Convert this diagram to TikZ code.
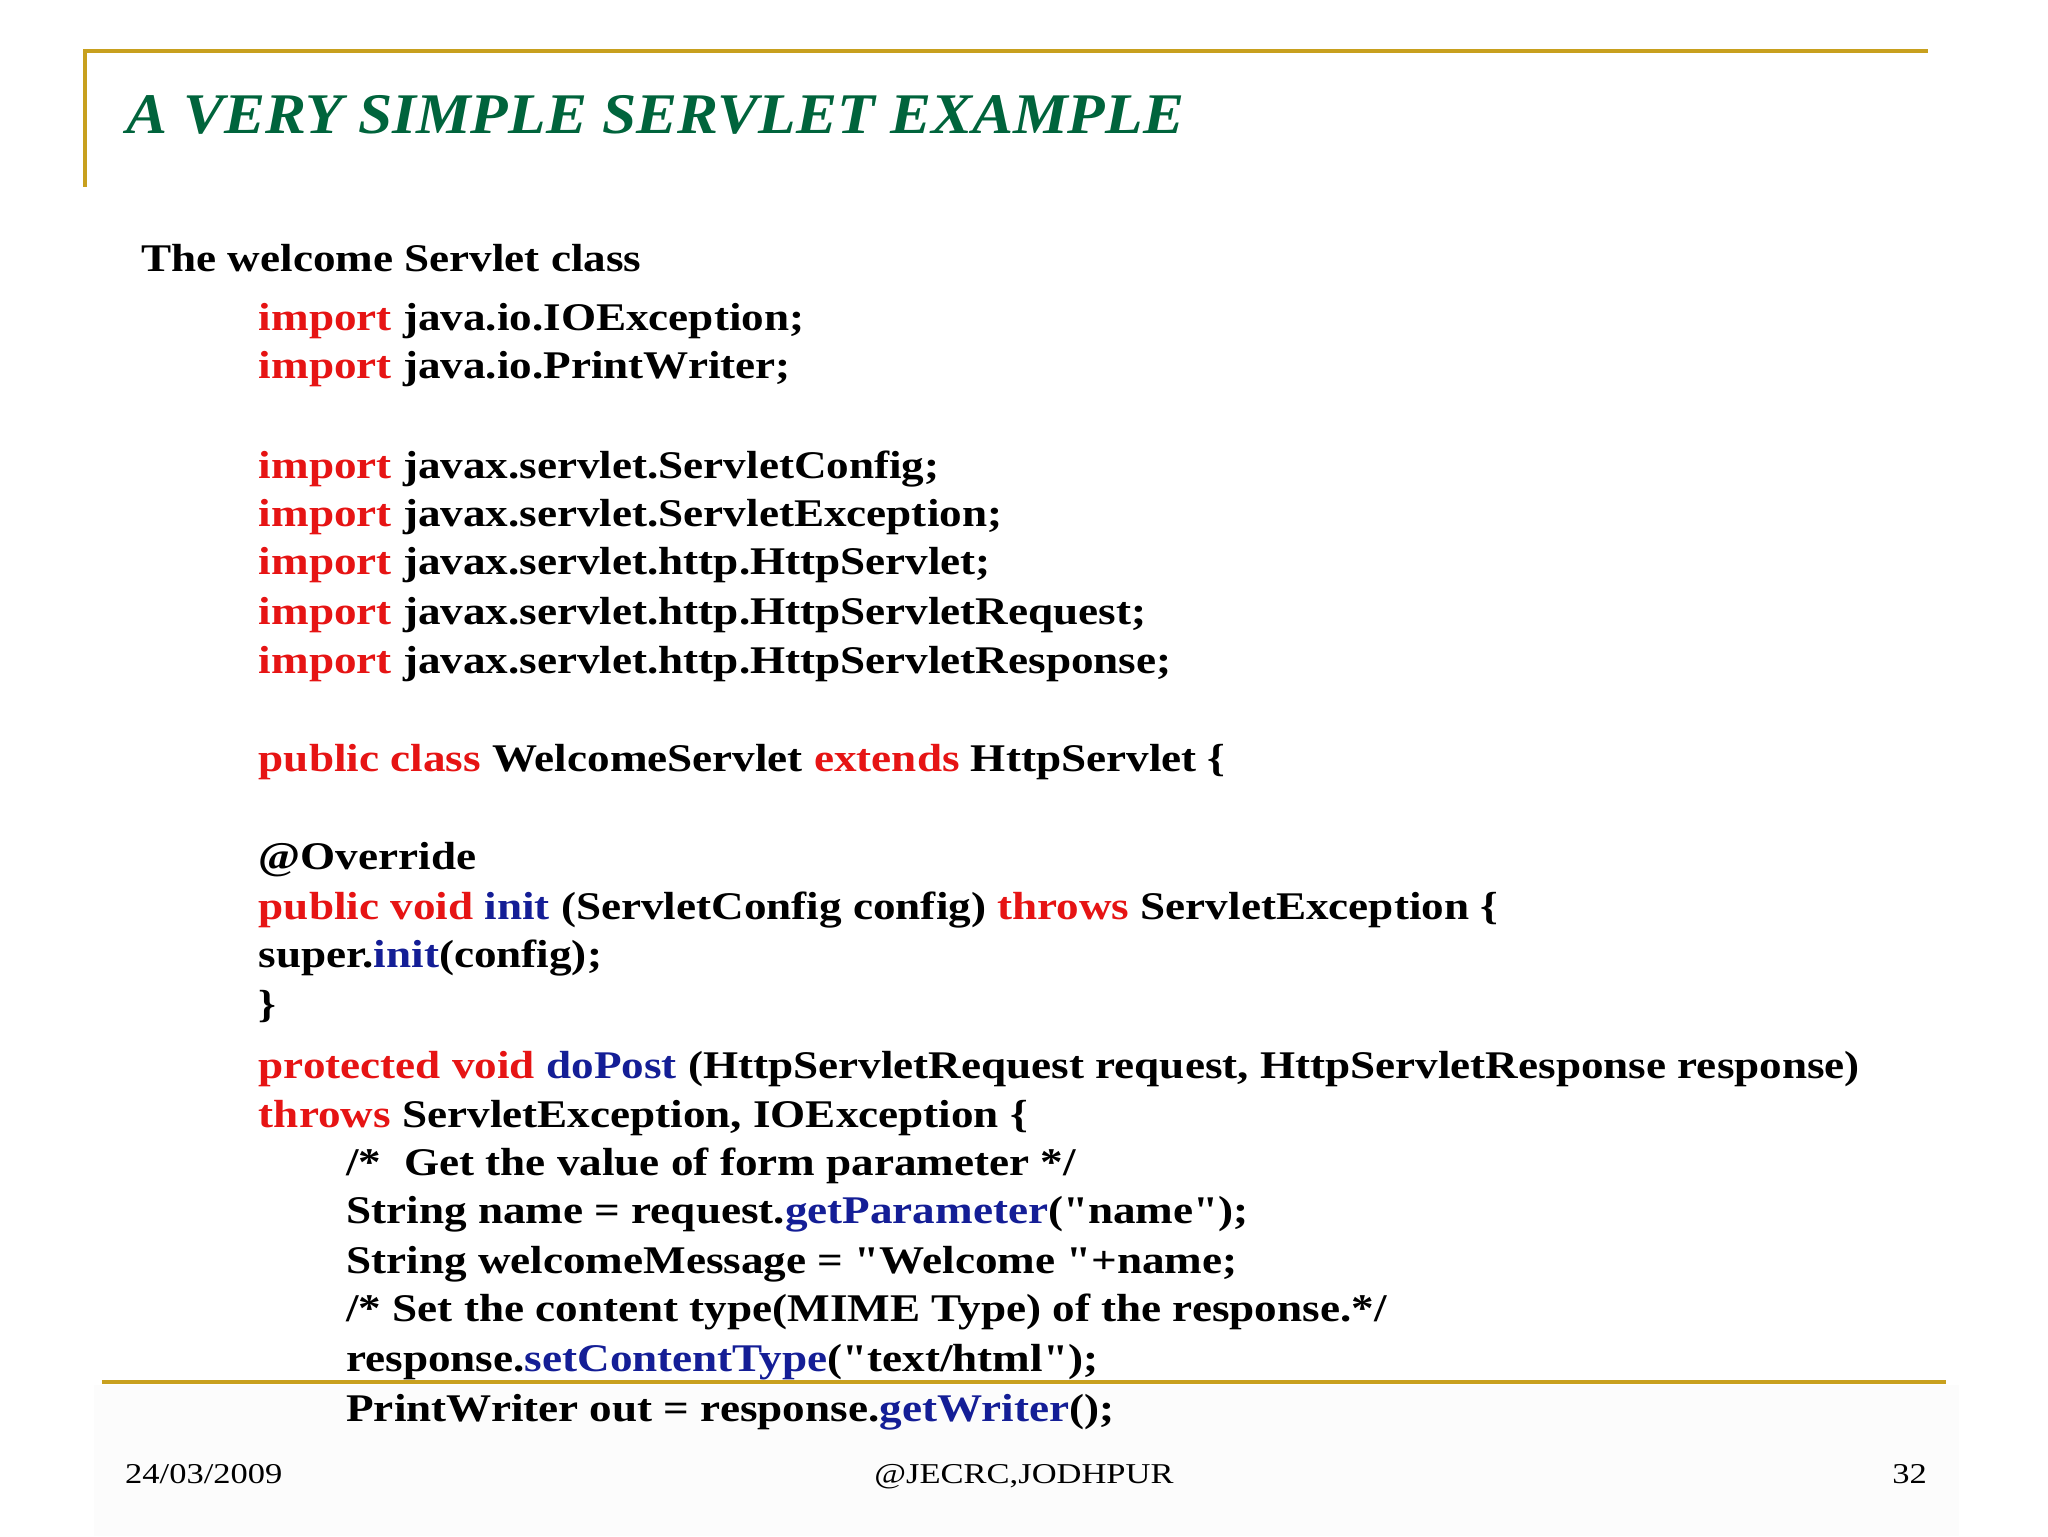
\documentclass[tikz,border=0pt]{standalone}
\usepackage{fontspec}
\setmainfont{Liberation Serif}
\newfontfamily\codefont[FakeStretch=1.152]{Liberation Serif}
\newfontfamily\footfont[FakeStretch=1.2]{Liberation Serif}
\newfontfamily\titlefont[FakeStretch=1.07]{Liberation Serif}
\definecolor{kw}{RGB}{230,20,20}
\definecolor{fn}{RGB}{20,30,150}
\definecolor{gold}{RGB}{200,160,30}
\definecolor{ttl}{RGB}{0,100,60}
\newcommand{\K}[1]{\textcolor{kw}{#1}}
\newcommand{\F}[1]{\textcolor{fn}{#1}}
\newcommand{\Q}{\char34}
\begin{document}
\begin{tikzpicture}[x=1pt,y=-1pt,
  code/.style={anchor=base west,inner sep=0pt,font=\codefont\bfseries\fontsize{30}{30}\selectfont},
  foot/.style={anchor=base,inner sep=0pt,font=\footfont\fontsize{22}{22}\selectfont}]
\useasboundingbox (0,0) rectangle (1568,1176);
\fill[white] (0,0) rectangle (1568,1176);
\fill[black!1] (72,1060) rectangle (1500,1176);
\draw[gold,line width=3pt] (65,143) -- (65,39) -- (1476,39);
\draw[gold,line width=3pt] (78,1058) -- (1490,1058);
\node[anchor=base west,inner sep=0pt,text=ttl,font=\titlefont\fontsize{44}{44}\selectfont\bfseries\itshape] (t) at (97,102) {A VERY SIMPLE SERVLET EXAMPLE};
\node[code] (l0) at (108,208) {The welcome Servlet class};
\node[code] (l1) at (198,253) {\K{import} java.io.IOException;};
\node[code] (l2) at (198,290) {\K{import} java.io.PrintWriter;};
\node[code] (l3) at (198,366) {\K{import} javax.servlet.ServletConfig;};
\node[code] (l4) at (198,403) {\K{import} javax.servlet.ServletException;};
\node[code] (l5) at (198,440) {\K{import} javax.servlet.http.HttpServlet;};
\node[code] (l6) at (198,478) {\K{import} javax.servlet.http.HttpServletRequest;};
\node[code] (l7) at (198,516) {\K{import} javax.servlet.http.HttpServletResponse;};
\node[code] (l8) at (198,591) {\K{public class} WelcomeServlet \K{extends} HttpServlet \{};
\node[code] (l9) at (198,666) {@Override};
\node[code] (l10) at (198,704) {\K{public void} \F{init} (ServletConfig config) \K{throws} ServletException \{};
\node[code] (l11) at (198,741) {super.\F{init}(config);};
\node[code] (l12) at (198,779) {\}};
\node[code] (l13) at (198,826) {\K{protected void} \F{doPost} (HttpServletRequest request, HttpServletResponse response)};
\node[code] (l14) at (198,863) {\K{throws} ServletException, IOException \{};
\node[code] (l15) at (265,900) {/*\ \ Get the value of form parameter */};
\node[code] (l16) at (265,937) {String name = request.\F{getParameter}(\Q name\Q);};
\node[code] (l17) at (265,975) {String welcomeMessage = \Q Welcome \Q+name;};
\node[code] (l18) at (265,1012) {/* Set the content type(MIME Type) of the response.*/};
\node[code] (l19) at (265,1050) {response.\F{setContentType}(\Q text/html\Q);};
\node[code] (l20) at (265,1088) {PrintWriter out = response.\F{getWriter}();};
\node[foot] (f1) at (156,1136) {24/03/2009};
\node[foot] (f2) at (784,1136) {@JECRC,JODHPUR};
\node[foot] (f3) at (1462,1136) {32};
\end{tikzpicture}
\end{document}
